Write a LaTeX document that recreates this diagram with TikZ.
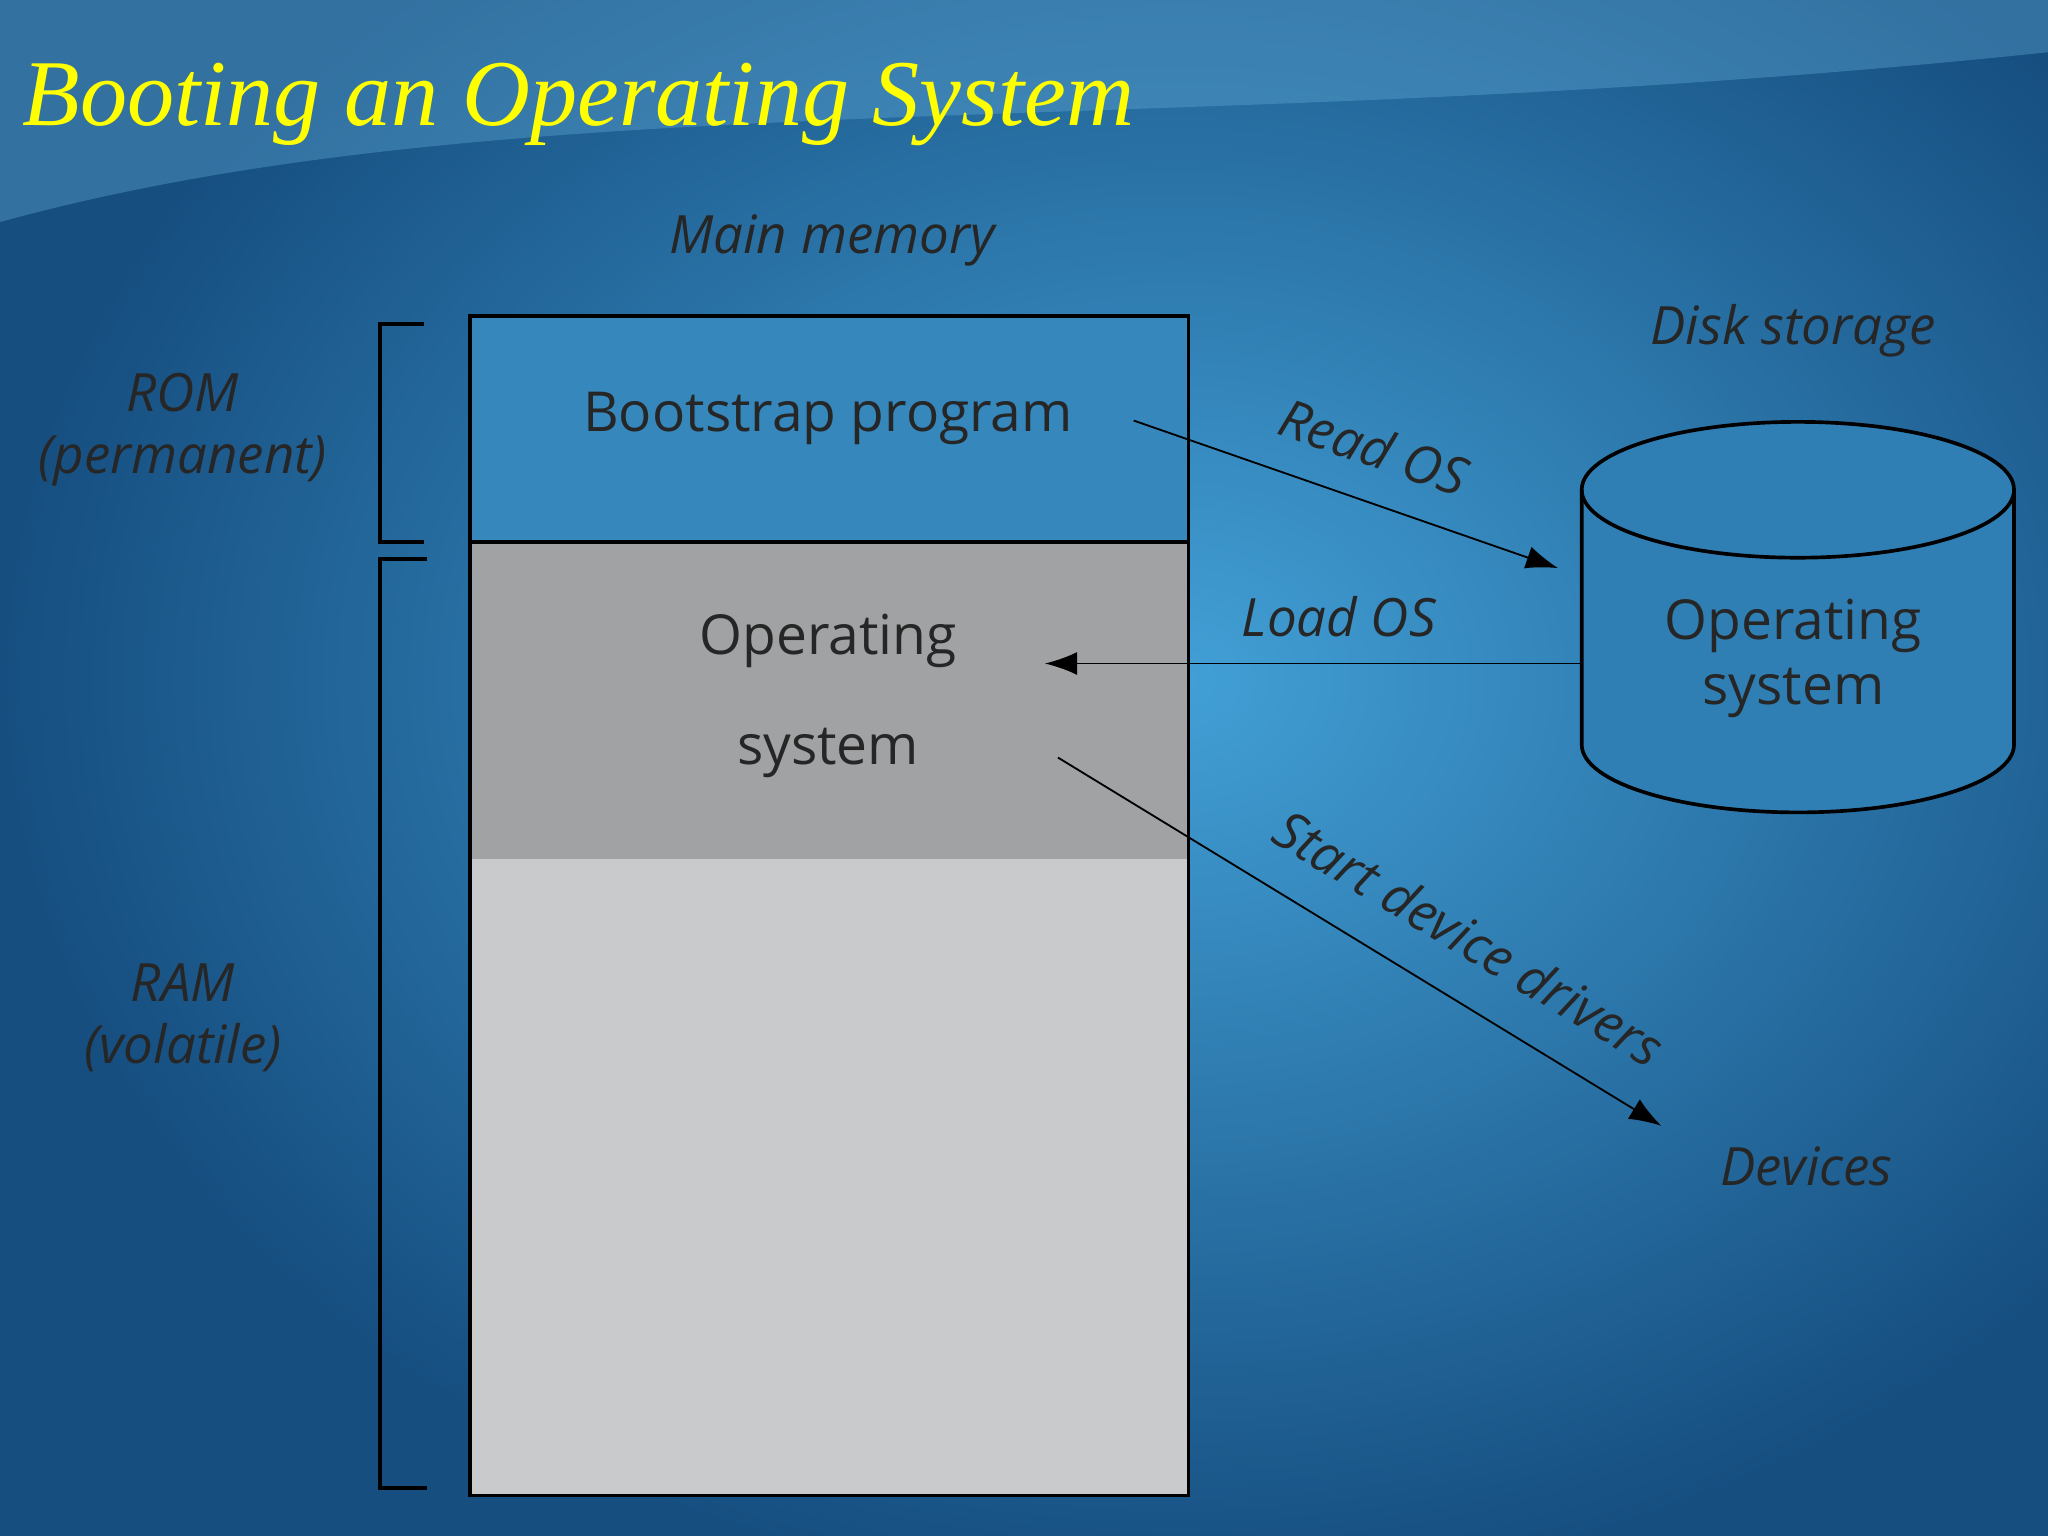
\documentclass[tikz,border=0pt]{standalone}
\usepackage{fontspec}
\setmainfont{Open Sans}
\newfontfamily\titlefont{Liberation Serif}
\usetikzlibrary{positioning,calc,arrows.meta}
\definecolor{slidedark}{RGB}{22,78,128}
\definecolor{slidelight}{RGB}{66,160,214}
\definecolor{osgray}{RGB}{160,162,164}
\definecolor{ramgray}{RGB}{200,202,204}
\definecolor{titleyellow}{RGB}{255,255,0}
\tikzset{
  lbl/.style={font=\itshape\fontsize{11.5}{13.5}\selectfont, text=black!85},
  boxtxt/.style={font=\fontsize{12}{14}\selectfont, text=black!85},
  flow/.style={-{Latex[length=7pt,width=5pt]}, thin, black}
}
\begin{document}
\begin{tikzpicture}[x=0.01cm,y=-0.01cm]
    \useasboundingbox (0,0) rectangle (1568,1176);
    % background
    \fill[slidedark] (0,0) rectangle (1568,1176);
    \begin{scope}
        \clip (0,0) rectangle (1568,1176);
        \shade[inner color=slidelight, outer color=slidedark] (900,520) ellipse (900 and 700);
        \fill[slidelight!80!white, opacity=0.35] (0,170) .. controls (400,60) and (900,110) .. (1568,40) -- (1568,0) -- (0,0) -- cycle;
    \end{scope}
    \node[font=\titlefont\itshape\fontsize{20.5}{24}\selectfont, text=titleyellow, anchor=west] (title) at (5,80) {Booting an Operating System};

    % main memory
    \fill[slidelight!70!slidedark] (360,242) rectangle (910,415);
    \fill[osgray] (360,415) rectangle (910,658);
    \fill[ramgray] (360,658) rectangle (910,1145);
    \draw[thick] (360,242) rectangle (910,1145);
    \draw[thick] (360,415) -- (910,415);
    \node[lbl] (mainmem) at (637,184) {Main memory};
    \node[boxtxt] (boot) at (634,320) {Bootstrap program};
    \node[boxtxt, align=center] (osmem) at (634,533) {Operating\\[10pt]system};

    % brackets
    \draw[thick] (325,248) -- (291,248) -- (291,415) -- (325,415);
    \draw[thick] (327,428) -- (291,428) -- (291,1139) -- (327,1139);
    \node[lbl, align=center] (rom) at (140,329) {ROM\\(permanent)};
    \node[lbl, align=center] (ram) at (140,779) {RAM\\(volatile)};

    % disk
    \fill[slidelight!60!slidedark] (1211,375) -- (1211,570) arc[start angle=180, end angle=0, x radius=165.5, y radius=52] -- (1542,375) arc[start angle=0, end angle=-180, x radius=165.5, y radius=52];
    \draw[thick] (1211,375) -- (1211,570) arc[start angle=180, end angle=0, x radius=165.5, y radius=52] -- (1542,375);
    \draw[thick] (1376.5,375) ellipse (165.5 and 52);
    \node[lbl] (diskstore) at (1373,253) {Disk storage};
    \node[boxtxt, align=center] (osdisk) at (1373,504) {Operating\\system};
    \node[lbl] (devices) at (1383,893) {Devices};

    % connectors
    \coordinate (readA) at (868,322);
    \coordinate (readB) at (1193,435);
    \coordinate (loadA) at (1211,508);
    \coordinate (loadB) at (800,508);
    \coordinate (startA) at (810,580);
    \coordinate (startB) at (1272,862);
    \draw[flow] (readA) -- (readB);
    \draw[flow] (loadA) -- (loadB);
    \draw[flow] (startA) -- (startB);
    \node[lbl, rotate=-19] (readlbl) at (1052,342) {Read OS};
    \node[lbl] (loadlbl) at (1025,472) {Load OS};
    \node[lbl, rotate=-31] (startlbl) at (1125,718) {Start device drivers};
\end{tikzpicture}
\end{document}
